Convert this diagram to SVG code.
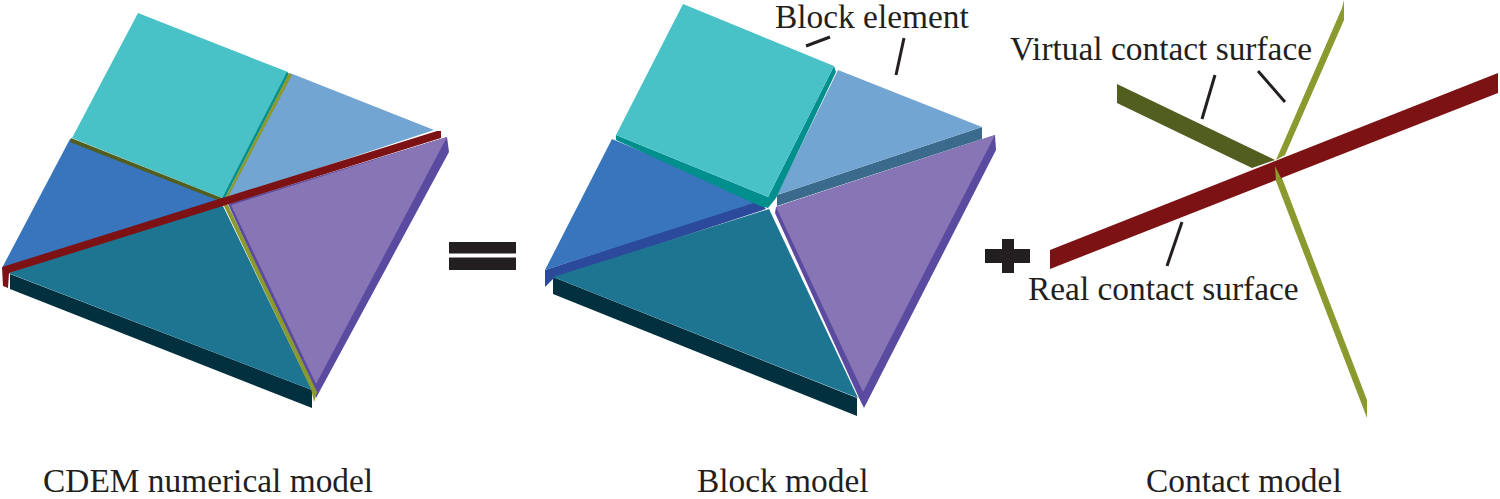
<svg xmlns="http://www.w3.org/2000/svg" width="1500" height="499" viewBox="0 0 1500 499">
<style>
.t{font-family:"Liberation Serif","Times New Roman",serif;font-size:33.400px;fill:#231f20}
.lead{stroke:#231f20;stroke-width:3;fill:none}
.k{fill:#231f20}
.cy{fill:#48c2c7}.cyd{fill:#008f8c}
.lb{fill:#72a5d2}.lbd{fill:#3a6a8c}
.bl{fill:#3875bd}.bld{fill:#2c4a9c}
.te{fill:#1e7592}.ted{fill:#03303f}
.pu{fill:#8875b5}.pud{fill:#5a4ba0}
.re{fill:#7d1214}.ol{fill:#8a9a2e}.old{fill:#525d20}
</style>
<rect width="1500" height="499" fill="#fff"/>
<g id="cdem-model">
<polygon class="ted" points="10,274 312,390 312,408 10,289"/>
<polygon class="te" points="222,204 312,390 8,273"/>
<polygon class="bl" points="70,139 224,200 2,268"/>
<polygon class="bld" points="2,268 222,198 224,201 8,270"/>
<polygon class="lb" points="290,73 434,130 226,199"/>
<polygon class="cy" points="138,13 288,72 222,198 72,138"/>
<polygon class="pud" points="447,137 449,152 316,398 228,204"/>
<polygon class="pu" points="231,205 447,137 316,384"/>
<polygon class="old" points="71,138 222,198 225,203 70,142"/>
<polygon class="cyd" points="287,72 289,74 224,200 222,198"/>
<polygon class="ol" points="289,73 292,75 226,201 224,200"/>
<polygon class="ol" points="223,204 228,205 317,392 314,402 311,389"/>
<polygon class="re" points="2,267 437,131 441,131 441,138 226,205 9,273 8,288 3,286"/>
</g>
<g id="equals-sign" class="k">
<rect x="449" y="242" width="67" height="11.500"/>
<rect x="449" y="257.500" width="67" height="12.500"/>
</g>
<g id="block-model">
<polygon class="ted" points="553,277 857,398 857,416 553,294"/>
<polygon class="bld" points="545,270 758,200 766,209 553,279 545,287"/>
<polygon class="bl" points="612,139 760,201 545,270"/>
<polygon class="te" points="769,209 858,398 553,277"/>
<polygon class="lbd" points="982,127 982,139 777,206 777,195"/>
<polygon class="lb" points="838,70 982,127 777,195"/>
<polygon class="cyd" points="616,135 768,197 834,66 836,72 776,198 768,208 760,206 616,140"/>
<polygon class="cy" points="683,4 834,66 768,197 616,135"/>
<polygon class="pud" points="995,135 996,150 864,408 860,400 775,213 776,207"/>
<polygon class="pu" points="776,207 995,135 863,392"/>
</g>
<g id="plus-sign"><polygon class="k" points="1002,239 1014,239 1014,249 1030,249 1030,263 1014,263 1014,273 1002,273 1002,263 985,263 985,249 1002,249"/></g>
<g id="contact-model">
<polygon class="ol" points="1344,0 1344,20 1285,155 1276,160 1342,8"/>
<polygon class="ol" points="1275,167 1282,178 1367,400 1367,418 1276,181"/>
<polygon class="old" points="1117,84 1275,160 1252,168 1117,103"/>
<polygon class="re" points="1050,250 1498,73 1498,93 1050,269"/>
<polygon class="ol" points="1275,166 1276,181 1281,178"/>
</g>
<g id="connectors" class="lead">
<line x1="830" y1="37" x2="806" y2="46"/>
<line x1="904" y1="38" x2="896" y2="75"/>
<line x1="1215" y1="75" x2="1202" y2="119"/>
<line x1="1258" y1="71" x2="1285" y2="102"/>
<line x1="1182" y1="222" x2="1167" y2="266"/>
</g>
<g id="labels">
<text class="t" x="775" y="28">Block element</text>
<text class="t" x="1010" y="60">Virtual contact surface</text>
<text class="t" x="1028" y="300">Real contact surface</text>
<text class="t" x="43" y="492">CDEM numerical model</text>
<text class="t" x="697" y="492">Block model</text>
<text class="t" x="1146" y="492">Contact model</text>
</g>
</svg>
